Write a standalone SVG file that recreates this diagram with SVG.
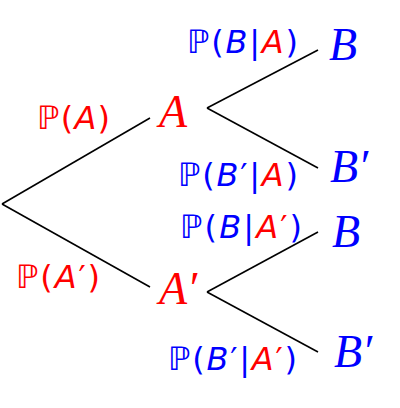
<svg xmlns="http://www.w3.org/2000/svg" width="400" height="408" viewBox="0 0 400 408">
<style>
.e{stroke:#000;stroke-width:1.6;fill:none}
text{font-family:"Liberation Serif","DejaVu Serif",serif}
.big{font-size:46px;font-style:italic}
.lab{font-size:32px;font-family:"DejaVu Sans",sans-serif}
.r{fill:#f00}
.b{fill:#00f}
.i{font-style:italic}
</style>
<rect width="400" height="408" fill="#fff"/>
<g id="edges">
<line class="e" x1="2" y1="204" x2="150" y2="118"/>
<line class="e" x1="2" y1="204" x2="150" y2="287"/>
<line class="e" x1="207" y1="108" x2="318" y2="50"/>
<line class="e" x1="207" y1="108" x2="318" y2="168"/>
<line class="e" x1="207" y1="292" x2="318" y2="232"/>
<line class="e" x1="207" y1="292" x2="318" y2="352"/>
</g>
<g id="nA"><text class="big r" x="159" y="127">A</text></g>
<g id="nA2"><text class="big r" x="159" y="304">A′</text></g>
<g id="nB1"><text class="big b" x="329" y="60">B</text></g>
<g id="nB1p"><text class="big b" x="330" y="182">B′</text></g>
<g id="nB2"><text class="big b" x="332" y="247">B</text></g>
<g id="nB2p"><text class="big b" x="334" y="367">B′</text></g>
<g id="lPA"><text class="lab r" x="37" y="129" textLength="73" lengthAdjust="spacing">ℙ(<tspan class="i">A</tspan>)</text></g>
<g id="lPA2"><text class="lab r" x="16" y="288" textLength="84" lengthAdjust="spacing">ℙ(<tspan class="i">A</tspan>′)</text></g>
<g id="lBA"><text class="lab b" x="187" y="53" textLength="111" lengthAdjust="spacing">ℙ(<tspan class="i">B</tspan>|<tspan class="i r">A</tspan>)</text></g>
<g id="lBpA"><text class="lab b" x="178" y="186" textLength="120" lengthAdjust="spacing">ℙ(<tspan class="i">B</tspan>′|<tspan class="i r">A</tspan>)</text></g>
<g id="lBAp"><text class="lab b" x="180" y="238" textLength="122" lengthAdjust="spacing">ℙ(<tspan class="i">B</tspan>|<tspan class="i r">A</tspan><tspan class="r">′</tspan>)</text></g>
<g id="lBpAp"><text class="lab b" x="168" y="370" textLength="129" lengthAdjust="spacing">ℙ(<tspan class="i">B</tspan>′|<tspan class="i r">A</tspan><tspan class="r">′</tspan>)</text></g>
</svg>
